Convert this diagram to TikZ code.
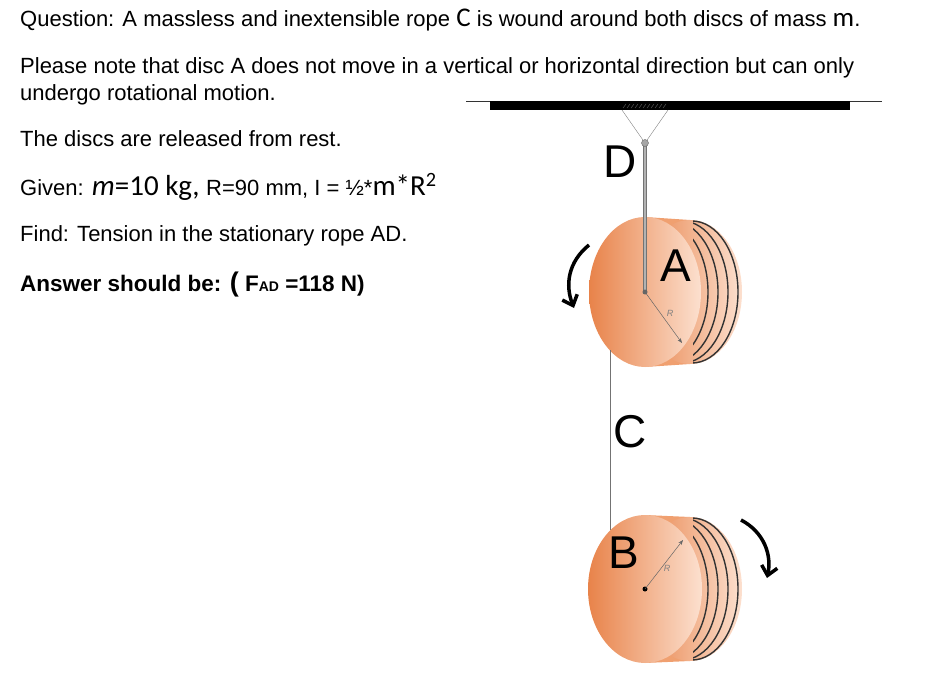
\documentclass[tikz,border=0pt]{standalone}
\usepackage{fontspec}
\setmainfont{Liberation Sans}
\newfontfamily\calfnt{Carlito}
\usetikzlibrary{arrows.meta,patterns}
\definecolor{orD}{HTML}{E8834A}
\definecolor{orL}{HTML}{FCE0CF}
\definecolor{orM}{HTML}{F0A070}
\begin{document}
\begin{tikzpicture}[x=1pt,y=-1pt,
  txt/.style={anchor=west,inner sep=0pt,font=\fontsize{22}{26}\selectfont},
  big/.style={inner sep=0pt,font=\fontsize{46}{50}\selectfont},
  rot/.style={line width=3.5pt,-{Straight Barb[length=9pt,width=16pt]}},
  wind/.style={line width=1.4pt,black!80}]
\useasboundingbox (0,0) rectangle (938,690);
\node[txt] (q) at (20,20) {Question: A massless and inextensible rope {\calfnt\fontsize{27}{27}\selectfont C} is wound around both discs of mass {\calfnt\fontsize{27}{27}\selectfont m}.};
\node[txt] (p1) at (20,68) {Please note that disc A does not move in a vertical or horizontal direction but can only};
\node[txt] (p2) at (20,95) {undergo rotational motion.};
\node[txt] (r) at (20,139) {The discs are released from rest.};
\node[txt] (g) at (20,187) {Given: {\calfnt\fontsize{29}{29}\selectfont\itshape m\upshape=10 kg, }R=90 mm, I = ½*{\calfnt\fontsize{29}{29}\selectfont m*R\textsuperscript{2}}};
\node[txt] (f) at (20,236) {Find: Tension in the stationary rope AD.};
\node[txt] (ans) at (20,285) {\bfseries\fontsize{22.5}{26}\selectfont Answer should be: {\fontsize{27}{27}\selectfont(} F{\fontsize{14}{14}\selectfont AD} =118 N)};
% ceiling
\draw[black!80,line width=0.8pt] (466,101) -- (882,101);
\fill (490,101) rectangle (850,110);
\draw[gray,line width=0.4pt] (622,110) -- (645,143) -- (668,110);
\foreach \i in {0,...,10} \draw[black!60,line width=0.4pt] (623+4*\i,108) -- (626+4*\i,104);
% disc A
\fill[orM] (645,217) -- (690,220) -- (690,364) -- (645,367) -- cycle;
\shade[left color=orD,right color=orL] (690,292) ellipse[x radius=52,y radius=72];
\begin{scope}
\clip (693,200) rectangle (760,380);
\foreach \d in {0,10,20,30} \draw[wind] (662+\d,292) ellipse[x radius=46,y radius=71];
\end{scope}
\shade[left color=orD,right color=orL] (645,292) ellipse[x radius=56,y radius=75];
% disc B
\fill[orM] (645,515) -- (690,517) -- (690,661) -- (645,663) -- cycle;
\shade[left color=orD,right color=orL] (690,589) ellipse[x radius=52,y radius=72];
\begin{scope}
\clip (693,500) rectangle (760,680);
\foreach \d in {0,10,20,30} \draw[wind] (662+\d,589) ellipse[x radius=46,y radius=71];
\end{scope}
\shade[left color=orD,right color=orL] (645,589) ellipse[x radius=57,y radius=74];
% rod AD
\coordinate (Dp) at (645,143);
\coordinate (Ac) at (645,292);
\coordinate (Bc) at (645,589);
\draw[black!55,line width=4pt] (Dp) -- (Ac);
\draw[black!30,line width=1.5pt] (Dp) -- (Ac);
\fill[black!60] (Ac) circle (2.5);
\filldraw[fill=black!35,draw=black!60] (Dp) circle (3.5);
% rope C
\coordinate (c1) at (610,350);
\coordinate (c2) at (610,530);
\draw[black!55,line width=1pt] (c1) -- (c2);
% radii
\draw[black!60,line width=0.5pt,-{Stealth[length=5pt]}] (Ac) -- (682,343);
\node[font=\fontsize{9}{9}\selectfont\itshape,black!50] (Ra) at (670,313) {R};
\fill (Bc) circle (2.5);
\draw[black!60,line width=0.5pt,-{Stealth[length=5pt]}] (Bc) -- (683,540);
\node[font=\fontsize{9}{9}\selectfont\itshape,black!50] (Rb) at (667,568) {R};
% labels
\node[big] (D) at (620,162) {D};
\node[big] (A) at (676,266) {A};
\node[big] (C) at (630,432) {C};
\node[big] (B) at (624,553) {B};
% rotation arrows
\draw[rot] (589,245) .. controls (568,262) and (565,285) .. (574,308);
\draw[rot] (741,520) .. controls (764,532) and (772,555) .. (767,578);
\end{tikzpicture}
\end{document}
